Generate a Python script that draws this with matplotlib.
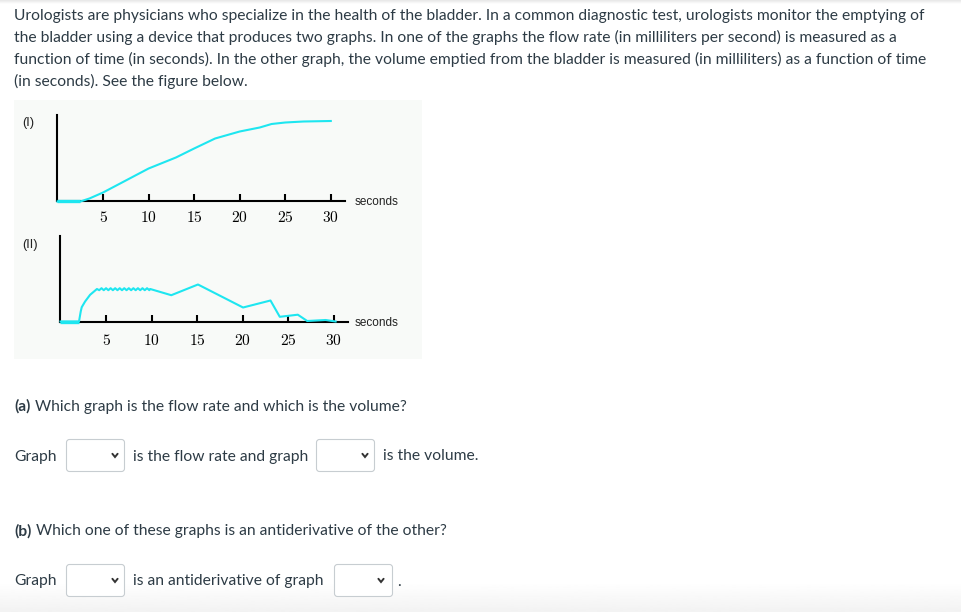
import numpy as np
import matplotlib
matplotlib.use("Agg")
import matplotlib.pyplot as plt
from matplotlib.patches import FancyBboxPatch, Rectangle

# ---------------- data ----------------
time_ticks = [5, 10, 15, 20, 25, 30]
tick_labels = ["5", "10", "15", "20", "25", "30"]

# Graph (I): volume emptied (arbitrary units) vs time (s)
vol_t = [0, 2.5, 3.5, 5, 7.5, 10, 13, 15, 17.3, 20, 22.2, 23.5, 25, 27, 30]
vol_v = [0, 0, 3, 9, 21, 33, 44, 53, 63, 70, 74, 77.5, 79, 80, 80.5]

# Graph (II): flow rate (arbitrary units) vs time (s)
flow_t = [0, 2.03, 2.22, 2.33, 2.7, 3.25, 4.0,
          4.25, 4.5, 4.75, 5.0, 5.25, 5.5, 5.75, 6.0, 6.25, 6.5, 6.75, 7.0,
          7.25, 7.5, 7.75, 8.0, 8.25, 8.5, 8.75, 9.0, 9.25, 9.5, 9.75, 9.85,
          12.16, 15.09, 20.04, 23.05, 24.07, 26.05, 27.08, 29.1, 30.2]
flow_v = [0, 0, 10, 14.3, 20, 26.7, 32.5,
          31.3, 33.3, 31.3, 33.3, 31.3, 33.3, 31.3, 33.3, 31.3, 33.3, 31.3, 33.3,
          31.3, 33.3, 31.3, 33.3, 31.3, 33.3, 31.3, 33.3, 31.3, 33.3, 31.3, 32.5,
          26.3, 37, 14, 21, 4.7, 6.8, 0.5, 1.5, 0]

paragraph = [
    "Urologists are physicians who specialize in the health of the bladder. In a common diagnostic test, urologists monitor the emptying of",
    "the bladder using a device that produces two graphs. In one of the graphs the flow rate (in milliliters per second) is measured as a",
    "function of time (in seconds). In the other graph, the volume emptied from the bladder is measured (in milliliters) as a function of time",
    "(in seconds). See the figure below.",
]

# ---------------- style ----------------
W, H = 962, 612
TEXT = "#2d3b45"
CYAN = "#1ee6f0"
FONT = ["Lato", "DejaVu Sans"]
plt.rcParams["mathtext.fontset"] = "cm"

fig = plt.figure(figsize=(W / 100, H / 100), dpi=100)

# page-level axes in pixel coordinates
bg = fig.add_axes([0, 0, 1, 1])
bg.set_xlim(0, W)
bg.set_ylim(H, 0)
bg.axis("off")

# subtle top shadow / bottom fade
grad_top = np.linspace(0.9, 1.0, 50).reshape(-1, 1)
bg.imshow(grad_top, extent=(0, W, 4, 0), cmap="gray", vmin=0, vmax=1, aspect="auto", zorder=0)
grad_bot = np.linspace(1.0, 0.95, 50).reshape(-1, 1)
bg.imshow(grad_bot, extent=(0, W, 612, 582), cmap="gray", vmin=0, vmax=1, aspect="auto", zorder=0)
bg.set_xlim(0, W)
bg.set_ylim(H, 0)

# paragraph
fs = 11.25
for i, line in enumerate(paragraph):
    bg.text(14, 20 + 22 * i, line, family=FONT, fontsize=fs, color=TEXT, va="baseline", ha="left")

# image backdrop
bg.add_patch(Rectangle((14, 100), 408, 259, facecolor="#f8faf8", edgecolor="none", zorder=1))


def chart(left, right, top, base, t, v, pad, label, label_y, sec_y):
    px = 9.11
    ax = fig.add_axes([left / W, 1 - base / H, (right - left) / W, (base - top) / H])
    ax.set_facecolor("none")
    ax.set_xlim(0, (right - left) / px)
    ax.set_ylim(0, base - top)
    for s in ("top", "right"):
        ax.spines[s].set_visible(False)
    for s in ("left", "bottom"):
        ax.spines[s].set_linewidth(1.5)
        ax.spines[s].set_color("black")
    ax.set_yticks([])
    ax.set_xticks(time_ticks)
    ax.set_xticklabels(["$" + s + "$" for s in tick_labels])
    ax.tick_params(axis="x", direction="in", length=5.2, width=1.5, pad=pad, labelsize=11.2)
    ax.plot(t, v, color=CYAN, lw=1.5, solid_joinstyle="round", clip_on=False, zorder=3)
    ax.plot(t[:2], v[:2], color=CYAN, lw=2.4, solid_capstyle="butt", clip_on=False, zorder=4)
    bg.text(22.5, label_y, label, family=["Liberation Sans"], fontsize=9.3, color="#222222", va="center")
    bg.text(355, sec_y, "seconds", family=["Liberation Sans"], fontsize=8.5, color="#222222", va="center")
    return ax


chart(57.5, 345, 115, 201.5, vol_t, vol_v, 6.3, "(I)", 123, 202)
chart(60.5, 348, 236, 321.5, flow_t, flow_v, 8.0, "(II)", 245, 322.5)

# questions
def bold_then(x, y, b, rest):
    tb = bg.text(x, y, b, family=FONT, fontweight="bold", fontsize=fs, color=TEXT, va="bottom")
    bg.annotate(rest, xy=(1, 0), xycoords=tb, xytext=(3.2, 0), textcoords="offset points",
                family=FONT, fontsize=fs, color=TEXT, va="bottom", ha="left")

bold_then(14, 413.5, "(a)", "Which graph is the flow rate and which is the volume?")
bold_then(14, 538.5, "(b)", "Which one of these graphs is an antiderivative of the other?")


def dropdown(x0, x1, y0, y1, cx):
    bg.add_patch(FancyBboxPatch((x0, y0), x1 - x0, y1 - y0,
                                boxstyle="round,pad=0,rounding_size=3",
                                facecolor="white", edgecolor="#c7cdd1", lw=0.8, zorder=2))
    cy = (y0 + y1) / 2
    bg.plot([cx - 2.6, cx, cx + 2.6], [cy - 1.7, cy + 1.5, cy - 1.7], color="#333333",
            lw=1.4, solid_capstyle="round", solid_joinstyle="miter", zorder=3)


# row (a)
bg.text(14, 460.5, "Graph", family=FONT, fontsize=fs, color=TEXT, va="baseline")
dropdown(66.5, 124.5, 439.5, 471.5, 115)
bg.text(133, 460.5, "is the flow rate and graph", family=FONT, fontsize=fs, color=TEXT, va="baseline")
dropdown(316.5, 374.5, 439.5, 471.5, 365)
bg.text(383, 460.5, "is the volume.", family=FONT, fontsize=fs, color=TEXT, va="baseline")

# row (b)
bg.text(14, 585.5, "Graph", family=FONT, fontsize=fs, color=TEXT, va="baseline")
dropdown(66.5, 124.5, 564.5, 596.5, 115)
bg.text(133, 585.5, "is an antiderivative of graph", family=FONT, fontsize=fs, color=TEXT, va="baseline")
dropdown(334.5, 392.5, 564.5, 596.5, 381)
bg.text(397, 585.5, ".", family=FONT, fontsize=fs, color=TEXT, va="baseline")

fig.savefig("out.png", dpi=100)
